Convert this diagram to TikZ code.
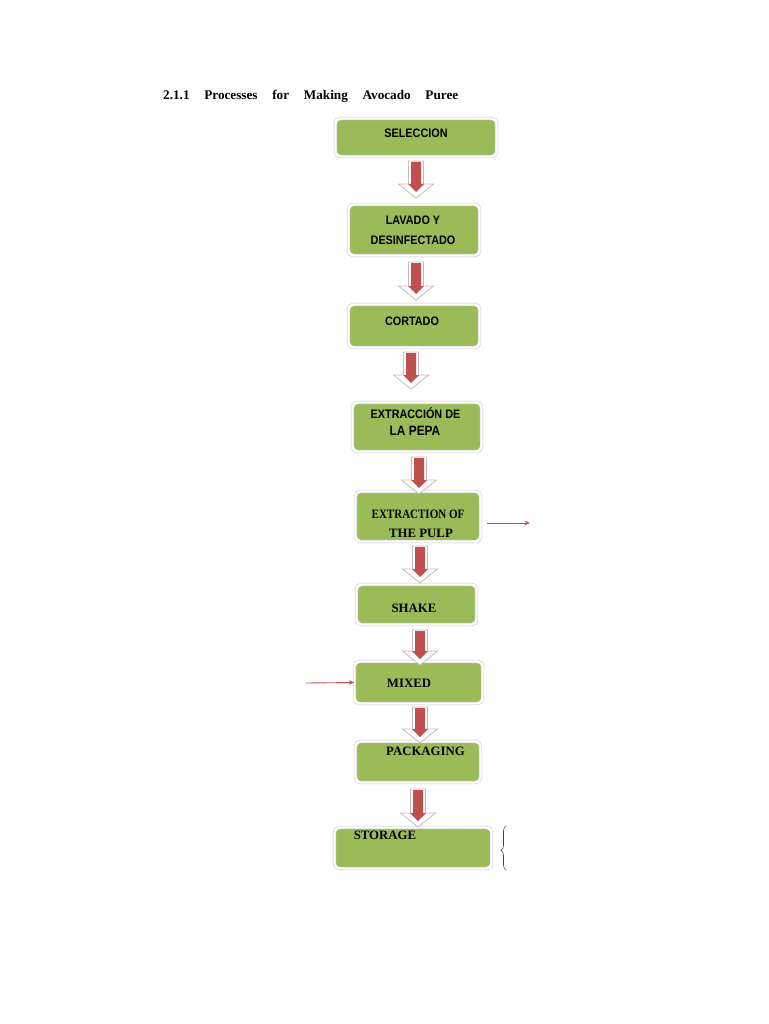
\documentclass[tikz,border=0pt]{standalone}
\usepackage{fontspec}
\usepackage{graphicx}
\setmainfont{Liberation Serif}
\newfontfamily\arialfam{Liberation Sans}[FakeStretch=0.88]
\usetikzlibrary{shadows,arrows.meta,decorations.pathreplacing}
\definecolor{boxgreen}{HTML}{9BBB59}
\definecolor{arrred}{HTML}{C0504D}
\definecolor{arredge}{HTML}{C9B9B9}
\tikzset{
  box/.style={rectangle, rounded corners=5pt, fill=boxgreen, draw=black!22, double=white,
    double distance=2.4pt, line width=0.5pt,
    drop shadow={shadow xshift=0.8pt, shadow yshift=-1.2pt, opacity=0.3, fill=black}},
  sanslbl/.style={anchor=base, inner sep=0pt, font=\arialfam\bfseries\fontsize{12.3}{14}\selectfont},
  serlbl/.style={anchor=base, inner sep=0pt, font=\bfseries\fontsize{12.8}{14}\selectfont},
  thinarrow/.style={draw=arrred, line width=0.9pt, -{Stealth[length=5.5pt,width=4.5pt]}},
}
% block arrow: centre x, top y, tip y (y grows downward)
\newcommand\blockarr[3]{%
  \fill[white, draw=arredge, line width=0.8pt]
    (#1-7.5,#2) -- (#1-7.5,#3-14) -- (#1-17.5,#3-14) -- (#1,#3) -- (#1+17.5,#3-14)
    -- (#1+7.5,#3-14) -- (#1+7.5,#2) -- cycle;
  \fill[arrred]
    (#1-5,#2+1) -- (#1-5,#3-14) -- (#1-8,#3-14) -- (#1,#3-6) -- (#1+8,#3-14)
    -- (#1+5,#3-14) -- (#1+5,#2+1) -- cycle;
}
\begin{document}
\begin{tikzpicture}[x=1pt,y=-1pt]
\useasboundingbox (0,0) rectangle (768,1024);

\node[anchor=base west, inner sep=0pt, font=\bfseries\fontsize{13.2}{15}\selectfont] (title) at (163,100)
  {\makebox[295pt][s]{2.1.1 Processes for Making Avocado Puree}};

% boxes
\node[box, minimum width=161pt, minimum height=38pt] (b1) at (416,137.5) {};
\node[box, minimum width=131pt, minimum height=51pt] (b2) at (414,230) {};
\node[box, minimum width=131pt, minimum height=43pt] (b3) at (414,326) {};
\node[box, minimum width=129pt, minimum height=49pt] (b4) at (417,427) {};
\node[box, minimum width=125pt, minimum height=50pt] (b5) at (418,516.5) {};
\node[box, minimum width=120pt, minimum height=40pt] (b6) at (416.5,604.5) {};
\node[box, minimum width=128pt, minimum height=42pt] (b7) at (418.5,682.5) {};
\node[box, minimum width=125pt, minimum height=41pt] (b8) at (418,762) {};
\node[box, minimum width=157pt, minimum height=41pt] (b9) at (413,848) {};

% labels
\node[sanslbl] (t1) at (416,138) {SELECCION};
\node[sanslbl] (t2a) at (413,225) {LAVADO Y};
\node[sanslbl] (t2b) at (413,244) {DESINFECTADO};
\node[sanslbl] (t3) at (412,325) {CORTADO};
\node[sanslbl] (t4a) at (415.5,418) {EXTRACCIÓN DE};
\node[sanslbl, font=\arialfam\bfseries\fontsize{13.5}{15}\selectfont] (t4b) at (415,435) {LA PEPA};
\node[serlbl] (t5a) at (418,518) {\scalebox{0.86}[1]{EXTRACTION OF}};
\node[serlbl] (t5b) at (421,537) {THE PULP};
\node[serlbl] (t6) at (414,612) {SHAKE};
\node[serlbl] (t7) at (409,687) {MIXED};
\node[serlbl] (t8) at (425.5,755) {PACKAGING};
\node[serlbl] (t9) at (385,839) {STORAGE};

% block arrows between boxes
\blockarr{416}{161}{198}
\blockarr{416}{262}{300}
\blockarr{411}{352}{389}
\blockarr{419}{457}{494}
\blockarr{420}{546}{583}
\blockarr{420}{630}{665}
\blockarr{420}{707}{743}
\blockarr{418}{789}{827}

% side arrows
\coordinate (s5) at (487,523);
\coordinate (e5) at (530,523);
\draw[thinarrow] (s5) -- (e5);
\coordinate (s7) at (306,683);
\draw[thinarrow] (s7) -- (b7.west);

% brace
\coordinate (brb) at (506,870);
\coordinate (brt) at (506,826);
\draw[black!75, line width=0.6pt, decorate, decoration={brace, amplitude=5pt, aspect=0.45}] (brb) -- (brt);
\end{tikzpicture}
\end{document}
